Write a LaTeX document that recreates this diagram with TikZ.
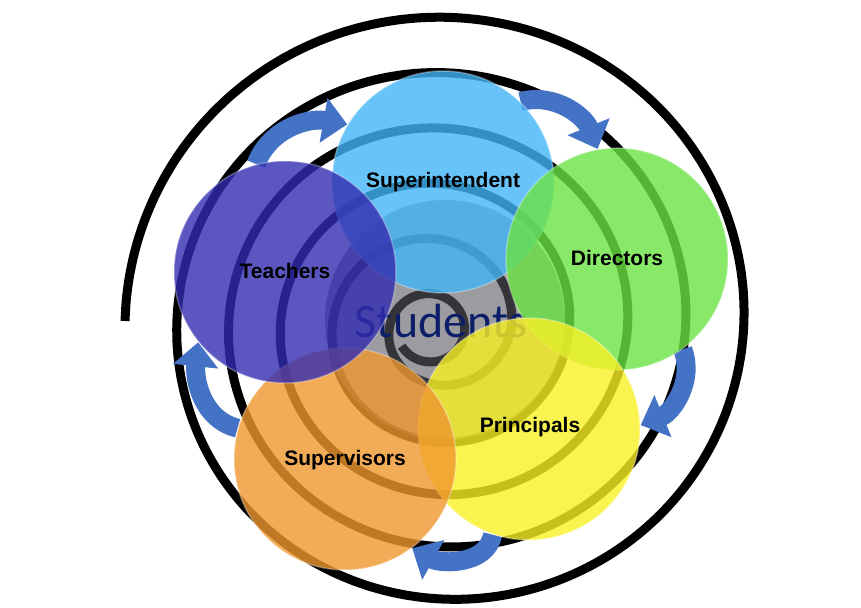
\documentclass[tikz,border=0pt]{standalone}
\usepackage{fontspec}
\newfontfamily\labfont{Liberation Sans}
\newfontfamily\stufont{Carlito}
\usetikzlibrary{arrows.meta}
\definecolor{arrowblue}{RGB}{68,114,196}
\definecolor{supcol}{RGB}{66,181,246}
\definecolor{dircol}{RGB}{106,226,66}
\definecolor{pricol}{RGB}{249,241,36}
\definecolor{svcol}{RGB}{239,151,46}
\definecolor{teacol}{RGB}{51,44,176}
\definecolor{stugray}{RGB}{88,88,96}
\definecolor{stublue}{RGB}{12,30,105}
\pgfdeclarelayer{back}
\pgfsetlayers{back,main}

\begin{document}
\begin{tikzpicture}[x=1pt,y=1pt,
			disc/.style={circle,minimum size=222pt,inner sep=0pt,fill opacity=0.8,draw=white,draw opacity=0.3,line width=1.5pt},
			lab/.style={font=\labfont\bfseries\fontsize{21}{24}\selectfont,anchor=base},
			flow/.style={draw=arrowblue,line width=19pt,-{Triangle[length=24pt,width=44pt]}},
			coil/.style={draw=black,line width=9pt}]
			\useasboundingbox (0,0) rectangle (861,607);
			%% circles, clockwise from the top
			\node[disc,fill=supcol] (super) at (443,425) {};
			\node[disc,fill=dircol] (direc) at (617,348) {};
			\node[disc,fill=pricol] (princ) at (529,178) {};
			\node[disc,fill=svcol] (superv) at (345,148) {};
			\node[disc,fill=teacol] (teach) at (285,335) {};
			%% labels
			\node[lab] (super-l) at (443,419) {Superintendent};
			\node[lab] (direc-l) at (617,341) {Directors};
			\node[lab] (princ-l) at (530,174) {Principals};
			\node[lab] (superv-l) at (345,141) {Supervisors};
			\node[lab] (teach-l) at (285,328) {Teachers};
			\begin{pgfonlayer}{back}
				%% spiral, then the centre over it
				\draw[coil] plot[domain=0:1620,samples=420,variable=\t,smooth]
					({449-\t/113.5-(324-0.152778*\t)*cos(\t)},{286-\t/241+0.98*(324-0.152778*\t)*sin(\t)})
					-- plot[domain=1620:2130,samples=120,variable=\t,smooth]
					({449-\t/113.5-(33+43.5*(max(1980-\t,0)/360)^2)*cos(\t)},{286-\t/241+0.98*(33+43.5*(max(1980-\t,0)/360)^2)*sin(\t)});
				\fill[stugray,fill opacity=0.6] (445,287) circle (120);
				\node[font=\stufont\fontsize{48}{52}\selectfont,text=stublue,anchor=base] (stud) at (441,269) {Students};
				%% arrows between neighbours
				\draw[flow] (teach.105) to[out=69,in=170] (super.149);
				\draw[flow] (super.46) to[out=15,in=112] (direc.100);
				\draw[flow] (direc.-54) to[out=-69,in=22] (princ.2);
				\draw[flow] (princ.-109) to[out=-101,in=-29] (superv.-53);
				\draw[flow] (superv.164) to[out=166,in=-96] (teach.219);
			\end{pgfonlayer}
		\end{tikzpicture}
\end{document}
